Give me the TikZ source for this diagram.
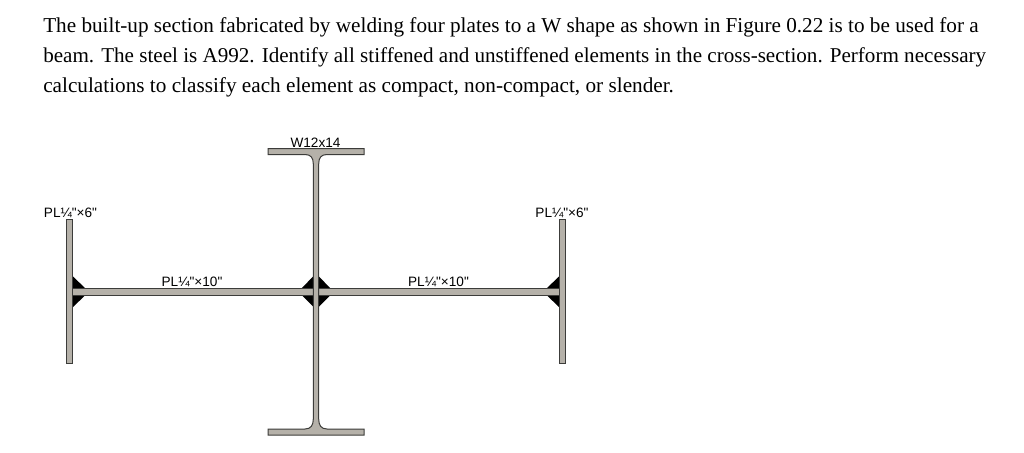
\documentclass[tikz,border=0pt]{standalone}
\usepackage{fontspec}
\setmainfont{Liberation Serif}
\newfontfamily\labelfont{Liberation Sans}
\definecolor{steel}{HTML}{B5B1A9}
\definecolor{edgec}{HTML}{3C3C3A}
\tikzset{
  x=0.75pt,y=-0.75pt,
  para/.style={anchor=base west,inner sep=0pt,font=\fontsize{#1}{18pt}\selectfont},
  lab/.style={anchor=base,inner sep=0pt,font=\labelfont\fontsize{10.2pt}{12pt}\selectfont},
  plate/.style={fill=steel,draw=edgec,line width=0.75pt},
  weld/.style={fill=black,draw=none}
}
\begin{document}
\begin{tikzpicture}
\useasboundingbox (0,0) rectangle (1024,453);
\node[para=15.9pt] (l1) at (43,33) {The built-up section fabricated by welding four plates to a W shape as shown in Figure 0.22 is to be used for a};
\node[para=15.82pt] (l2) at (43,63) {beam. The steel is A992. Identify all stiffened and unstiffened elements in the cross-section. Perform necessary};
\node[para=15.92pt] (l3) at (43,92.7) {calculations to classify each element as compact, non-compact, or slender.};
% welds
\fill[weld] (301.5,288.5) -- (313.5,276) -- (318.5,276) -- (330.5,288.5) -- (330.5,295) -- (318.5,307) -- (313.5,307) -- (301.5,295) -- cycle;
\fill[weld] (73,276.5) -- (85.5,288.5) -- (85.5,295) -- (73,307) -- cycle;
\fill[weld] (559,276.5) -- (546.5,288.5) -- (546.5,295) -- (559,307) -- cycle;
% horizontal plates
\draw[plate] (72.5,288.5) rectangle (313.5,295);
\draw[plate] (318.5,288.5) rectangle (559,295);
% outer plates
\draw[plate] (66.5,219.5) rectangle (72.5,363.5);
\draw[plate] (559,219.5) rectangle (565,363.5);
% W shape
\draw[plate] (268,148.5) -- (364,148.5) -- (364,154.5) -- (327,154.5)
  .. controls (321,154.5) and (318.7,158) .. (318.7,164)
  -- (318.7,419)
  .. controls (318.7,425) and (321,429) .. (327,429)
  -- (364,429) -- (364,435) -- (268,435) -- (268,429) -- (305,429)
  .. controls (311,429) and (313.3,425) .. (313.3,419)
  -- (313.3,164)
  .. controls (313.3,158) and (311,154.5) .. (305,154.5)
  -- (268,154.5) -- cycle;
% labels
\node[lab] (w) at (315.5,147) {W12x14};
\node[lab] (pa) at (70.5,217) {PL¼"×6"};
\node[lab] (pb) at (562,217) {PL¼"×6"};
\node[lab] (pc) at (192,286) {PL¼"×10"};
\node[lab] (pd) at (438.5,286) {PL¼"×10"};
\end{tikzpicture}
\end{document}
